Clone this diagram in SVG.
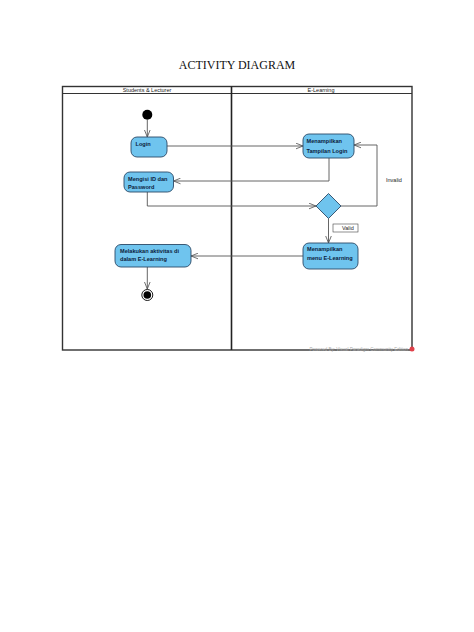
<svg xmlns="http://www.w3.org/2000/svg" width="474" height="632" viewBox="0 0 474 632">
<style>
.node{fill:#6fc4ee;stroke:#2b4a66;stroke-width:0.9}
.nt{font-family:"Liberation Sans",Arial,sans-serif;font-size:5.6px;font-weight:bold;fill:#0c1c3c}
.hd{font-family:"Liberation Sans",Arial,sans-serif;font-size:5.5px;fill:#222}
.ln{fill:none;stroke:#555;stroke-width:0.9}
.lbl{font-family:"Liberation Sans",Arial,sans-serif;font-size:5.5px;fill:#222}
</style>
<defs>
<marker id="arr" viewBox="0 0 10 10" refX="10" refY="5" markerWidth="7" markerHeight="7" orient="auto" markerUnits="userSpaceOnUse">
<path d="M0,1 L10,5 L0,9" fill="none" stroke="#555" stroke-width="1.2"/>
</marker>
</defs>
<rect width="474" height="632" fill="#fff"/>
<text x="237" y="69" text-anchor="middle" font-family="'Liberation Serif','Times New Roman',serif" font-size="12" fill="#111">ACTIVITY DIAGRAM</text>
<g id="frame">
<rect x="62.5" y="86.5" width="349.5" height="263.5" fill="#fff" stroke="#333" stroke-width="1.4"/>
<line x1="62.5" y1="93.5" x2="412" y2="93.5" stroke="#333" stroke-width="1.2"/>
<line x1="231.5" y1="86.5" x2="231.5" y2="350" stroke="#222" stroke-width="1.6"/>
<text class="hd" x="147" y="92" text-anchor="middle">Students &amp; Lecturer</text>
<text class="hd" x="321" y="92" text-anchor="middle">E-Learning</text>
</g>
<g id="connectors">
<line class="ln" x1="147.3" y1="120" x2="147.3" y2="137" marker-end="url(#arr)"/>
<line class="ln" x1="167" y1="146" x2="303" y2="146" marker-end="url(#arr)"/>
<polyline class="ln" points="329,158 329,181 173.5,181" marker-end="url(#arr)"/>
<polyline class="ln" points="147.3,192 147.3,206 316,206" marker-end="url(#arr)"/>
<polyline class="ln" points="341,206 377,206 377,145 354,145" marker-end="url(#arr)"/>
<line class="ln" x1="328.5" y1="218.5" x2="328.5" y2="243" marker-end="url(#arr)"/>
<line class="ln" x1="303" y1="256" x2="191" y2="256" marker-end="url(#arr)"/>
<line class="ln" x1="147.3" y1="267" x2="147.3" y2="289" marker-end="url(#arr)"/>
<text class="lbl" x="386" y="182">Invalid</text>
<rect x="333" y="224" width="25" height="8" fill="#fff" stroke="#444" stroke-width="0.6"/>
<text class="lbl" x="342" y="230">Valid</text>
</g>
<g id="start">
<circle cx="147.3" cy="114.7" r="5" fill="#000"/>
</g>
<g id="login">
<rect class="node" x="131" y="137" width="36" height="20" rx="6"/>
<text class="nt" x="135.5" y="146">Login</text>
</g>
<g id="tampilan-login">
<rect class="node" x="303" y="134" width="51" height="24" rx="6"/>
<text class="nt" x="306.5" y="143">Menampilkan</text>
<text class="nt" x="306.5" y="153">Tampilan Login</text>
</g>
<g id="mengisi">
<rect class="node" x="124" y="172" width="49.5" height="20" rx="6"/>
<text class="nt" x="128" y="180.5">Mengisi ID dan</text>
<text class="nt" x="128" y="188.5">Password</text>
</g>
<g id="decision">
<polygon class="node" points="328.5,193.5 341,206 328.5,218.5 316,206"/>
</g>
<g id="menu">
<rect class="node" x="303" y="243" width="55" height="26" rx="6"/>
<text class="nt" x="307" y="251">Menampilkan</text>
<text class="nt" x="307" y="259.5">menu E-Learning</text>
</g>
<g id="melakukan">
<rect class="node" x="115" y="244.5" width="76" height="22.5" rx="6"/>
<text class="nt" x="120" y="253">Melakukan aktivitas di</text>
<text class="nt" x="120" y="261">dalam E-Learning</text>
</g>
<g id="end">
<circle cx="147.3" cy="295" r="5.5" fill="#fff" stroke="#000" stroke-width="0.9"/>
<circle cx="147.3" cy="295" r="3.8" fill="#000"/>
</g>
<g id="watermark">
<text x="408" y="350.5" text-anchor="end" font-family="'Liberation Sans',Arial,sans-serif" font-size="4.5" fill="#aaa">Powered By: Visual Paradigm Community Edition</text>
<circle cx="412" cy="349" r="2.5" fill="#e0404a"/>
</g>
</svg>
